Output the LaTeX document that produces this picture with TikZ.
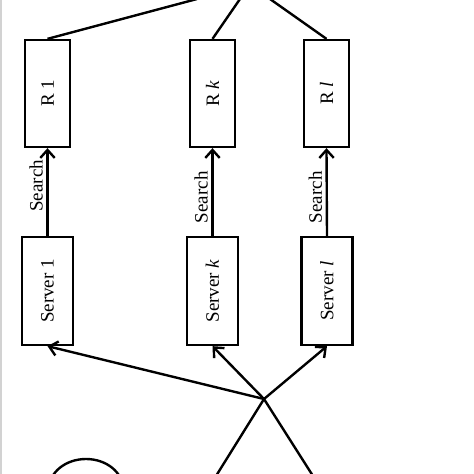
\documentclass[tikz,border=0pt]{standalone}
\usepackage{fontspec}
\setmainfont{Liberation Serif}
\usetikzlibrary{arrows.meta}

\begin{document}
\begin{tikzpicture}[x=0.025cm, y=-0.025cm,
    box/.style={rectangle, draw, line width=1.6pt, minimum width=1.125cm, minimum height=2.675cm, inner sep=0pt, font=\fontsize{13.5}{16}\selectfont},
    serverbox/.style={box, minimum width=1.275cm, minimum height=2.7cm},
    arrow/.style={-{Straight Barb[length=2mm, width=3.6mm]}, line width=1.7pt},
    link/.style={line width=1.7pt},
    lbl/.style={font=\fontsize{13.5}{16}\selectfont, inner sep=0.25em}
]
    \useasboundingbox (0,0) rectangle (474,474);
    \clip (0,0) rectangle (474,474);
    \draw[gray!35, line width=1.5pt] (1,0) -- (1,474);

    % Result boxes
    \node[box] (r1) at (47.5,93.5) {\rotatebox{90}{R 1}};
    \node[box] (rk) at (212.5,93.5) {\rotatebox{90}{R \textit{k}}};
    \node[box] (rl) at (326.5,93.5) {\rotatebox{90}{R \textit{l}}};

    % Servers
    \node[serverbox] (s1) at (47.5,291) {\rotatebox{90}{Server 1}};
    \node[serverbox] (sk) at (212.5,291) {\rotatebox{90}{Server \textit{k}}};
    \node[serverbox] (sl) at (327,291) {\rotatebox{90}{Server \textit{l}}};

    % Search
    \draw[arrow] (s1.north) -- node[lbl, pos=0.57, left=0pt] {\rotatebox{90}{Search}} (r1.south);
    \draw[arrow] (sk.north) -- node[lbl, pos=0.44, left=0pt] {\rotatebox{90}{Search}} (rk.south);
    \draw[arrow] (sl.north) -- node[lbl, pos=0.44, left=0pt] {\rotatebox{90}{Search}} (rl.south);

    % to the top (cut off)
    \coordinate (t1) at (197,-1);
    \coordinate (t2) at (240,-1);
    \coordinate (t3) at (270,-1);
    \draw[link] (r1.north) -- (t1);
    \draw[link] (rk.north) -- (t2);
    \draw[link] (rl.north) -- (t3);

    % from the bottom (cut off)
    \coordinate (hub) at (264,399);
    \coordinate (bl) at (216,476);
    \coordinate (br) at (313,476);
    \draw[arrow] (bl) -- (hub) -- (sl.south);
    \draw[arrow] (br) -- (hub) -- (sk.south);
    \draw[arrow] (hub) -- (s1.south);

    \draw[link] (86,489) ellipse [x radius=0.925cm, y radius=0.75cm];
\end{tikzpicture}
\end{document}
